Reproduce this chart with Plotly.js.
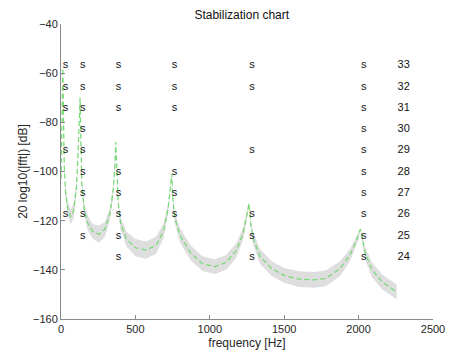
<!DOCTYPE html>
<html>
<head>
<meta charset="utf-8">
<script src="https://cdn.plot.ly/plotly-3.0.1.min.js"></script>
<style>html,body{margin:0;padding:0;background:#fff;}#chart{width:474px;height:356px;}</style>
</head>
<body>
<div id="chart"></div>
<script>
// FRF magnitude
const freq = [0,5,9,12,16,22,30,45,65,85,105,118,124,128,132,140,155,180,215,255,295,330,352,362,368,374,385,400,440,500,570,640,690,720,735,745,750,765,800,870,950,1035,1110,1180,1225,1250,1263,1275,1290,1337,1416,1500,1600,1700,1780,1875,1942,1980,2000,2012,2025,2043,2090,2160,2256];
const magnitude = [-103,-90,-70,-58,-80,-98,-108,-115,-118.5,-116,-106,-90,-78,-70,-88,-105,-115,-121,-124.5,-125.5,-123.5,-117,-107,-98,-88,-100,-113,-121,-127.5,-131,-132,-130,-124,-115,-106,-101,-110,-119,-126,-133,-137.5,-138.7,-137,-132,-125,-118,-113,-121,-127,-134.5,-139.5,-142.3,-143.8,-144.1,-143.5,-139.5,-134,-129,-126,-123.5,-127,-133,-140,-145,-149];
const bandHalfWidth = [3,2,1,0.5,1,2,2.5,3,3,3,2,1.5,1,0.5,1,2,2.5,3,3,3.5,3,2.5,2,1.5,0.5,1,2,2.5,3,3.5,3.5,3.5,3,2,1.5,0.5,1.5,2,3,3,3,3,3,3,2.5,1.5,0.5,1.5,2.5,3,3,3,3.2,3.2,3.2,3,2.5,2,1.5,0.5,1.5,2.5,3,3,3];

// stable poles: frequency of each mode and model orders where it is marked
const modeFreqs = [12, 128, 368, 745, 1265, 2016];
const modeOrders = [
  [33,32,31,29,26],
  [33,32,31,30,29,28,27,26,25],
  [33,32,31,28,27,26,25,24],
  [33,32,31,28,27,26],
  [33,32,29,26,25,24],
  [33,32,31,30,29,28,27,26,25,24]
];
const orderLabels = [33,32,31,30,29,28,27,26,25,24];
const orderLabelFreq = 2262;

const bandUpper = magnitude.map((m,i)=>m + bandHalfWidth[i]);
const bandLower = magnitude.map((m,i)=>m - bandHalfWidth[i]);

const sx = [], sy = [];
modeFreqs.forEach((f,i)=>modeOrders[i].forEach(o=>{sx.push(f); sy.push(o);}));

const font = "'Liberation Sans', Arial, Helvetica, sans-serif";
const traces = [
  {x: freq, y: bandLower, mode:'lines', line:{width:0, color:'rgba(0,0,0,0)'}, hoverinfo:'skip', showlegend:false},
  {x: freq, y: bandUpper, mode:'lines', line:{width:0, color:'rgba(0,0,0,0)'}, fill:'tonexty', fillcolor:'rgb(222,222,222)', hoverinfo:'skip', showlegend:false},
  {x: freq, y: magnitude, mode:'lines', line:{color:'rgb(115,218,115)', width:1.2, dash:'5px,3px'}, showlegend:false},
  {x: sx, y: sy, yaxis:'y2', mode:'text', text: sx.map(()=> 's'), textposition:'middle right', textfont:{family:font, size:11, color:'#111'}, showlegend:false},
  {x: orderLabels.map(()=>orderLabelFreq), y: orderLabels, yaxis:'y2', mode:'text', text: orderLabels.map(String), textposition:'middle right', textfont:{family:font, size:11, color:'#111'}, showlegend:false}
];

const axisCommon = {
  showgrid:false, zeroline:false, showline:true, linecolor:'#8a8a8a', linewidth:1,
  ticks:'inside', ticklen:4, tickcolor:'#8a8a8a', mirror:false,
  tickfont:{family:font, size:11, color:'#262626'}
};

const layout = {
  width:474, height:356,
  margin:{l:61, r:41, t:24, b:37},
  paper_bgcolor:'#fff', plot_bgcolor:'#fff',
  title:{text:'Stabilization chart', font:{family:font, size:12, color:'#111'}, x:0.51, xanchor:'center', y:1-15/356, yanchor:'middle', yref:'container'},
  xaxis: Object.assign({}, axisCommon, {range:[0,2500], dtick:500, tick0:0,
    title:{text:'frequency [Hz]', font:{family:font, size:12, color:'#262626'}, standoff:4}}),
  yaxis: Object.assign({}, axisCommon, {range:[-160,-40], dtick:20, tick0:-160,
    title:{text:'20 log10(|fft|) [dB]', font:{family:font, size:12, color:'#262626'}, standoff:2}}),
  yaxis2: {overlaying:'y', range:[21.09, 34.95], visible:false, showgrid:false, zeroline:false},
  showlegend:false
};

Plotly.newPlot('chart', traces, layout, {displayModeBar:false, staticPlot:true});
</script>
</body>
</html>
